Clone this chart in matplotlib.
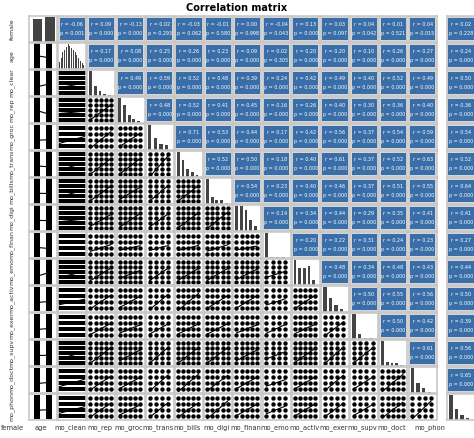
import numpy as np
import matplotlib.pyplot as plt
import matplotlib.patches as ptch

# Variable names
names = ["female", "age", "mo_clean", "mo_rep", "mo_groc", "mo_trans", "mo_bills", "mo_digi",
         "mo_finan", "mo_emo", "mo_activ", "mo_exer", "mo_supv", "mo_doct", "mo_phon"]
row_labels = ["female", "age", "mo_clear", "mo_rep", "mo_groc", "mo_trans", "mo_bills", "mo_digi",
              "mo_finan", "mo_emo", "mo_activ", "mo_exer", "mo_supv", "mo_doct", "mo_phon"]

# Upper triangle correlations (row i, columns i+1..14)
r_vals = [
    [-0.06, 0.09, -0.13, 0.02, -0.03, -0.01, 0.00, -0.04, 0.13, 0.03, 0.04, 0.01, 0.04, 0.02],
    [0.17, 0.08, 0.25, 0.26, 0.23, 0.09, 0.02, 0.20, 0.20, 0.10, 0.26, 0.27, 0.24],
    [0.49, 0.59, 0.52, 0.48, 0.39, 0.24, 0.42, 0.49, 0.40, 0.52, 0.49, 0.50],
    [0.48, 0.52, 0.41, 0.45, 0.16, 0.26, 0.40, 0.30, 0.36, 0.40, 0.36],
    [0.71, 0.53, 0.44, 0.17, 0.42, 0.56, 0.37, 0.54, 0.59, 0.54],
    [0.52, 0.50, 0.18, 0.40, 0.61, 0.37, 0.52, 0.63, 0.52],
    [0.54, 0.23, 0.40, 0.46, 0.37, 0.51, 0.55, 0.64],
    [0.14, 0.34, 0.44, 0.29, 0.35, 0.41, 0.41],
    [0.20, 0.22, 0.31, 0.24, 0.23, 0.27],
    [0.48, 0.34, 0.48, 0.43, 0.44],
    [0.50, 0.55, 0.56, 0.50],
    [0.50, 0.42, 0.39],
    [0.61, 0.56],
    [0.65],
]
p_vals = [
    [0.001, 0.000, 0.000, 0.293, 0.062, 0.580, 0.998, 0.043, 0.000, 0.097, 0.042, 0.521, 0.015, 0.228],
    [0.000, 0.000, 0.000, 0.000, 0.000, 0.000, 0.305, 0.000, 0.000, 0.000, 0.000, 0.000, 0.000],
]

# Histogram counts on the diagonal
hist_counts = [
    [48, 52],
    [5, 8, 12, 14, 16, 18, 17, 15, 14, 12, 10, 8, 6, 4, 3],
    [60, 25, 12, 5, 3],
    [55, 40, 18, 8, 3],
    [60, 30, 15, 12],
    [60, 40, 20, 12, 4],
    [70, 18, 12, 12, 3],
    [45, 45, 38, 20, 8],
    [70, 3, 1, 1],
    [50, 35, 35, 38, 10],
    [70, 40, 20, 8],
    [75, 15, 3, 2],
    [75, 12, 8, 10, 3],
    [60, 25, 12, 3],
    [70, 30, 15, 5],
]

n = len(names)
fig = plt.figure(figsize=(4.74, 4.38), dpi=100)
W, H = 474.0, 438.0
pitch_x, cw = 29.2, 28.0
pitch_y, ch = 27.0, 25.8
top = 16.0

def col_left(j):
    return 447.0 if j == n - 1 else 29.0 + j * pitch_x

for i in range(n):
    for j in range(n):
        x0 = col_left(j)
        y0 = top + i * pitch_y
        ax = fig.add_axes([x0 / W, 1 - (y0 + ch) / H, cw / W, ch / H])
        ax.set_xticks([]); ax.set_yticks([])
        for s in ax.spines.values():
            s.set_color("#c8c8c8"); s.set_linewidth(1.2)
        if j > i:
            # correlation box
            r = r_vals[i][j - i - 1]
            p = p_vals[i][j - i - 1] if i < len(p_vals) else 0.0
            ax.set_facecolor("#d6d6d6")
            ax.set_xlim(0, 1); ax.set_ylim(0, 1)
            ax.add_patch(ptch.Rectangle((0.05, 0.06), 0.9, 0.88, facecolor="#3a6ea8", edgecolor="none"))
            ax.text(0.5, 0.66, "r = %.2f" % r, color="white", ha="center", va="center", fontsize=3.5)
            ax.text(0.5, 0.32, "p = %.3f" % p, color="white", ha="center", va="center", fontsize=3.5)
        elif j == i:
            c = hist_counts[i]
            ax.bar(np.arange(len(c)), c, width=0.6 if len(c) > 2 else 0.8, color="#444444")
            ax.set_xlim(-0.7, max(len(c), 4) + 0.3 if len(c) > 2 else 1.6)
            ax.set_ylim(0, max(c) * 1.05)
        else:
            # scatter of level combinations with fitted line
            nx = len(hist_counts[j]); ny = len(hist_counts[i])
            xs, ys = np.meshgrid(np.arange(nx), np.arange(ny))
            if nx == 2:
                ax.scatter(xs.ravel(), ys.ravel(), s=22, marker="s", color="black", linewidths=0)
            elif nx > 5:
                ax.scatter(xs.ravel(), ys.ravel(), s=9, marker="s", color="black", linewidths=0)
            else:
                ax.scatter(xs.ravel(), ys.ravel(), s=10, marker="o", color="black", linewidths=0)
            r = r_vals[j][i - j - 1]
            xl = np.array([0, nx - 1])
            ax.plot(xl, (ny - 1) / 2 - 0.5 + r * (xl - (nx - 1) / 2) * (ny - 1) / max(nx - 1, 1) * 1.5,
                    color="black", lw=0.8)
            ax.set_xlim(-0.6, nx - 0.4 + (0.3 if nx > 2 else 0)); ax.set_ylim(-0.6, ny - 0.4)

# Row labels
for i, lab in enumerate(row_labels):
    fig.text(12 / W, 1 - (top + i * pitch_y + ch / 2) / H, lab, rotation=90,
             ha="center", va="center", fontsize=4.5, color="#333333")
# Column labels (shifted as in the original)
for j, lab in enumerate(names):
    xc = col_left(j) + cw / 2 - 31
    fig.text(xc / W, 1 - 428 / H, lab, ha="center", va="center", fontsize=4.8, color="#333333")

fig.text(237 / W, 1 - 8 / H, "Correlation matrix", ha="center", va="center", fontsize=7, fontweight="bold")
fig.savefig("out.png", dpi=100)
